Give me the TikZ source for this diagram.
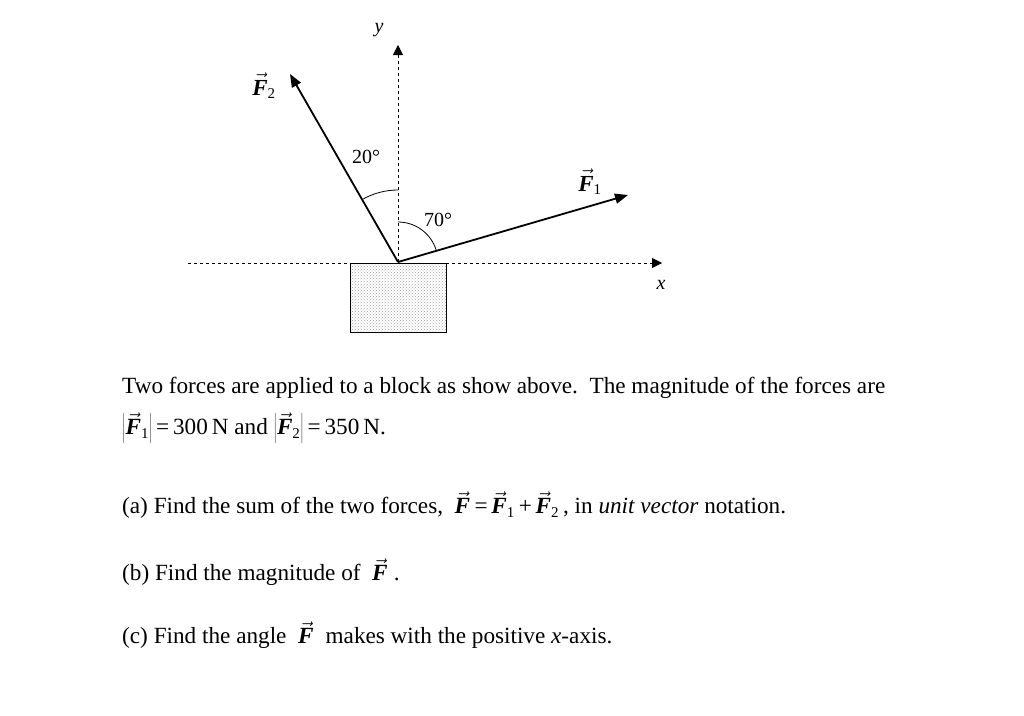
\documentclass[tikz,border=0pt]{standalone}
\usepackage{fontspec}
\setmainfont{Liberation Serif}
\usetikzlibrary{arrows.meta,patterns}
\newcommand{\vF}[1][]{$\vec{\mbox{\textbf{\textit{F}}}}_{\mbox{\fontsize{15}{15}\selectfont #1}}$}
\begin{document}
\begin{tikzpicture}[x=1pt,y=-1pt,
  axis/.style={dashed,line width=0.8pt,-{Triangle[length=10pt,width=10pt]}},
  force/.style={line width=1.8pt,-{Triangle[length=13pt,width=10pt]}},
  txt/.style={anchor=west,inner sep=0pt,font=\fontsize{23.2}{26}\selectfont},
  lbl/.style={inner sep=0pt,font=\fontsize{20}{22}\selectfont},
  big/.style={inner sep=0pt,font=\fontsize{23}{24}\selectfont}]
\useasboundingbox (0,0) rectangle (1024,715);
\coordinate (O) at (398,262);
\coordinate (ytip) at (398,45);
\coordinate (xl) at (188,263);
\coordinate (xtip) at (662,263);
\draw[axis] (O) -- (ytip);
\draw[axis] (xl) -- (xtip);
\node[lbl] (ylab) at (379,30) {\textit{y}};
\node[lbl] (xlab) at (661,285) {\textit{x}};
\node[draw,line width=1pt,pattern=crosshatch dots,pattern color=gray!70,minimum width=96pt,minimum height=69pt,anchor=north west] (blk) at (350,263) {};
\coordinate (f2) at (290,74);
\coordinate (f1) at (628,195);
\draw[force] (O) -- (f2);
\draw[force] (O) -- (f1);
\node[big] (F2) at (264,86) {\vF[2]};
\node[big] (F1) at (590,182) {\vF[1]};
\draw[line width=0.8pt] ([shift={(-120:72)}]O) arc[start angle=-120,end angle=-90,radius=72];
\node[lbl] (a20) at (366,157) {20°};
\draw[line width=0.8pt] ([shift={(-90:40)}]O) arc[start angle=-90,end angle=-17,radius=40];
\node[lbl] (a70) at (438,220) {70°};
\node[txt] (t1) at (122,388) {Two forces are applied to a block as show above.\ \ The magnitude of the forces are};
\node[txt] (t2) at (122,428) {$\left|\mbox{\vF[1]}\right|$\,=\,300\,N and $\left|\mbox{\vF[2]}\right|$\,=\,350\,N.};
\node[txt] (ta) at (122,505) {(a)\ Find the sum of the two forces,\ \ \vF\,=\,\vF[1]\,+\,\vF[2]\,, in \textit{unit vector} notation.};
\node[txt] (tb) at (122,572) {(b)\ Find the magnitude of \ \vF\ .};
\node[txt] (tc) at (122,635) {(c)\ Find the angle \ \vF\ \ makes with the positive \textit{x}-axis.};
\end{tikzpicture}
\end{document}
